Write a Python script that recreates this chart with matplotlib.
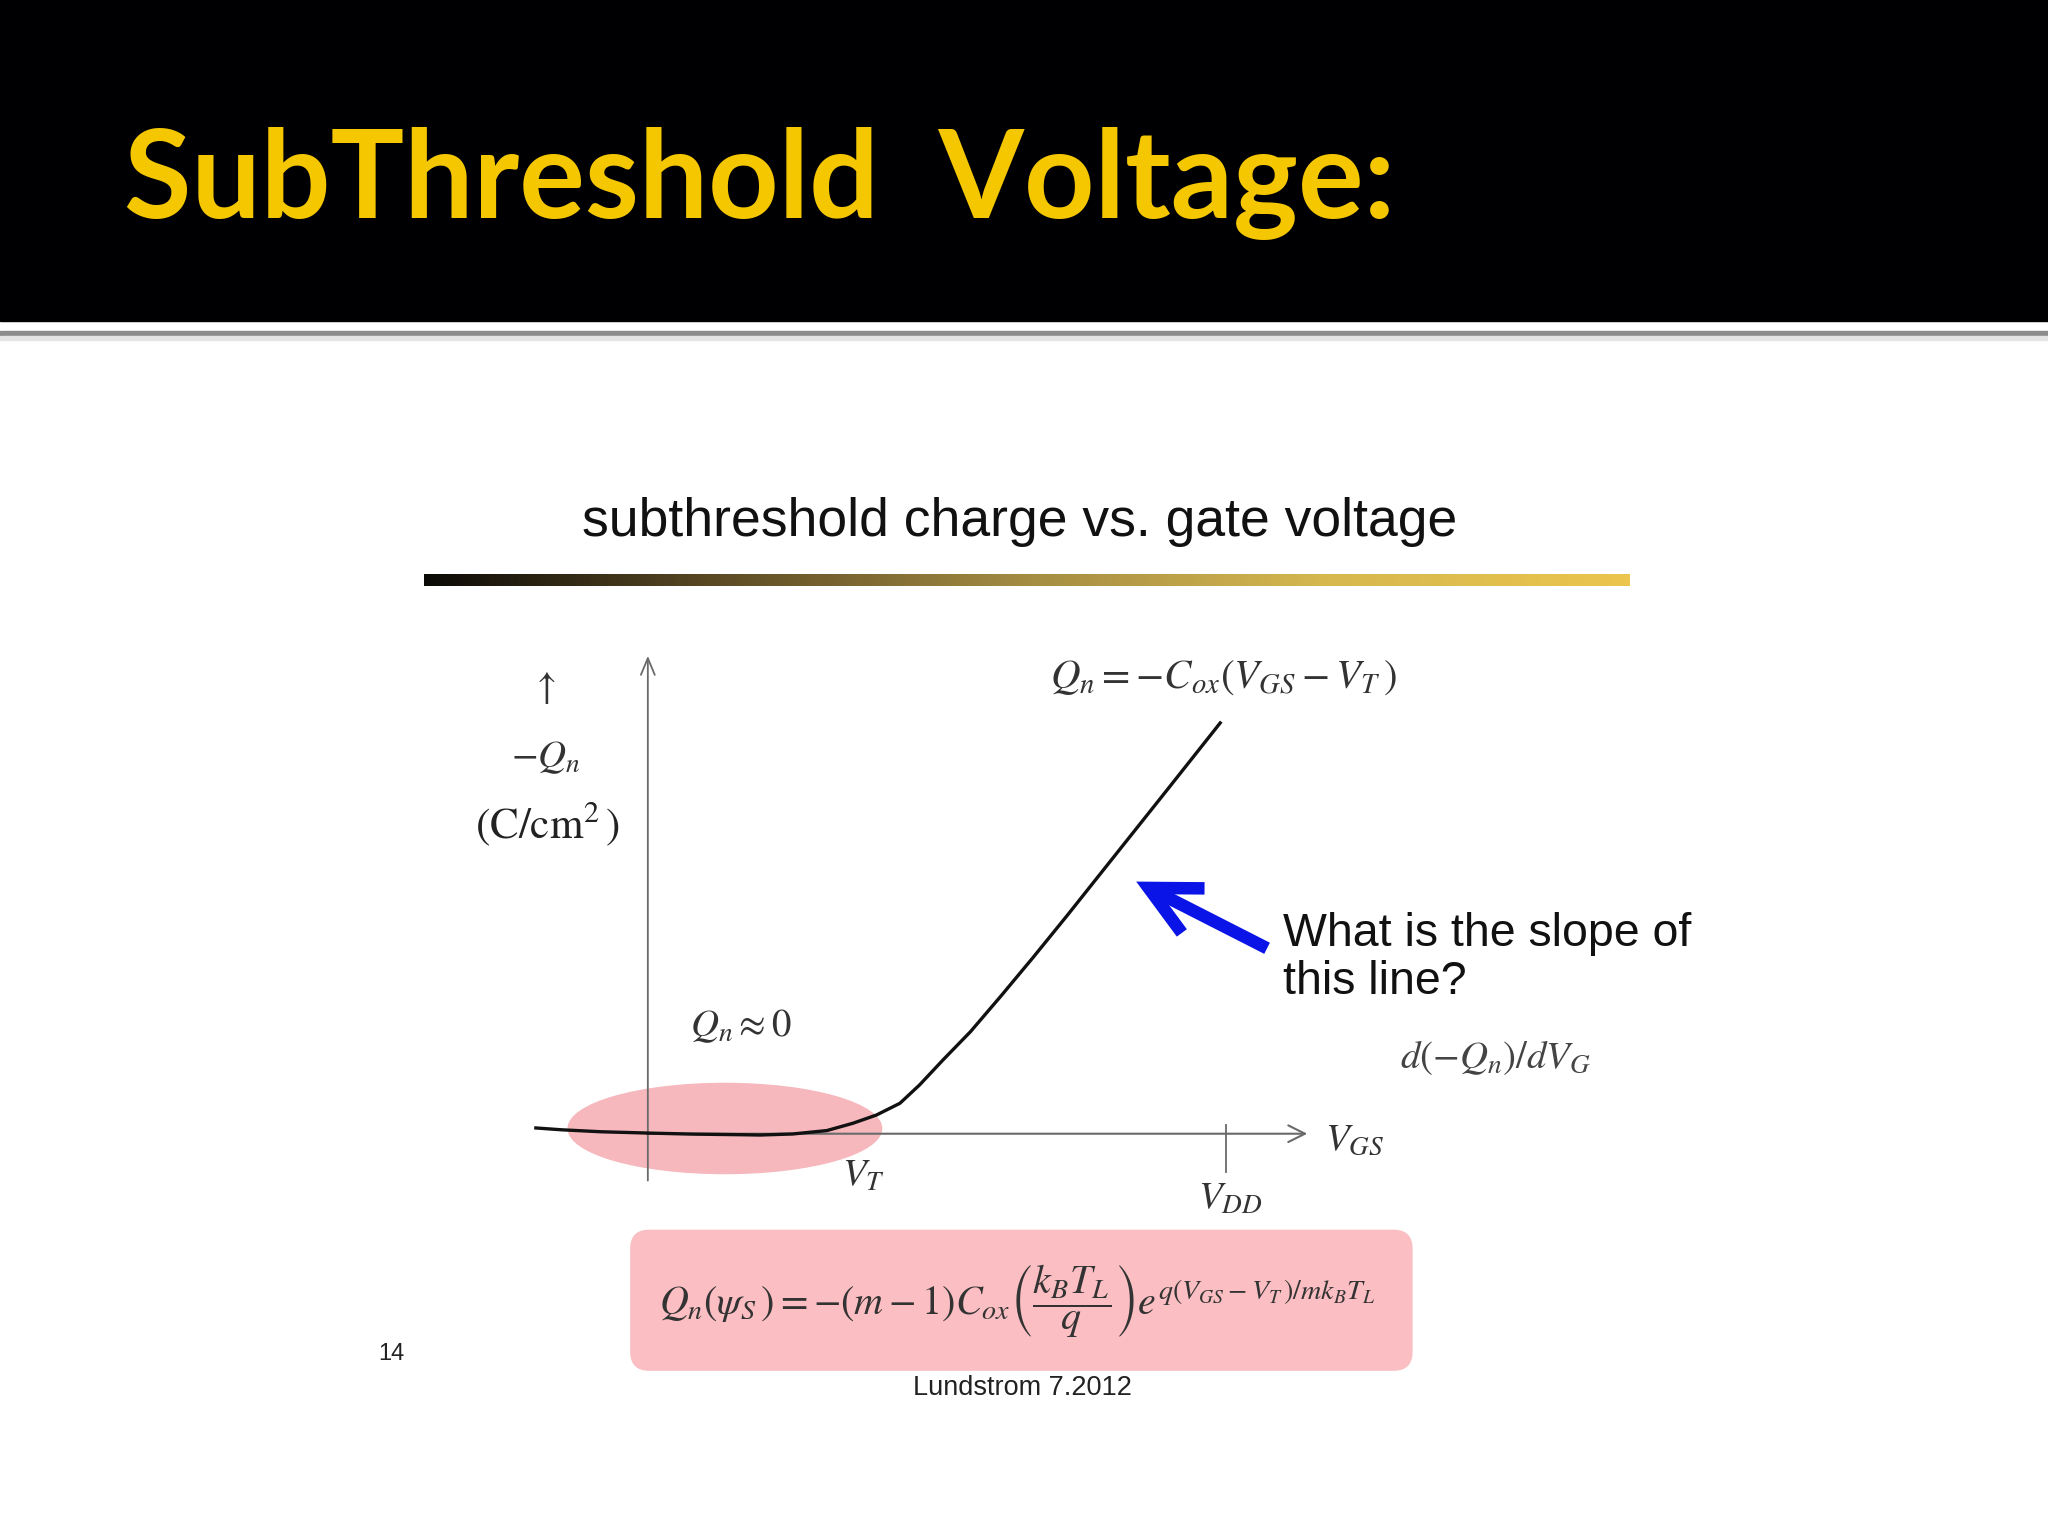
import numpy as np
import matplotlib
matplotlib.use("Agg")
from matplotlib import pyplot as plt
from matplotlib.patches import Rectangle, Ellipse, FancyBboxPatch
from matplotlib.colors import LinearSegmentedColormap

plt.rcParams['mathtext.fontset'] = 'stix'
plt.rcParams['font.family'] = ['Liberation Sans', 'DejaVu Sans']

# slide texts
title = "SubThreshold  Voltage:"
subtitle = "subthreshold charge vs. gate voltage"
question = ["What is the slope of", "this line?"]
source = "Lundstrom 7.2012"
page_no = "14"

# Q_n curve (slide pixel units, y grows downward)
curve_x = [409, 430, 460, 496, 530, 570, 582, 607, 633, 653, 671, 689, 704,
           722, 743, 766, 791, 817, 852, 893, 935]
curve_y = [863.5, 865, 866.5, 867.5, 868.3, 868.8, 869.0, 868.2, 865.6,
           860.0, 853.7, 844.7, 830.7, 811.5, 789.9, 763.0, 733.0, 701.0,
           657.0, 605.5, 552.5]

# axis positions on the slide
origin_x, origin_y = 496, 868
yaxis_top, yaxis_bottom = 500, 906
xaxis_end = 1003
vdd_x = 939

# colours of the bar under the subtitle
bar_colors = ['#0c0a07', '#5e4d25', '#a48c42', '#d6b84f', '#ebc54d']

W, H = 1568, 1176
fig = plt.figure(figsize=(20.48, 15.36), dpi=100)
ax = fig.add_axes([0, 0, 1, 1])
ax.set_xlim(0, W)
ax.set_ylim(H, 0)
ax.axis('off')

# header
ax.add_patch(Rectangle((0, 0), W, 245.5, color='#000003', zorder=1))
ax.add_patch(Rectangle((0, 253.5), W, 4, color='#8c8c8c', zorder=1))
ax.add_patch(Rectangle((0, 257.5), W, 3, color='#e4e4e4', zorder=1))
ax.text(95, 167, title, color='#f5c700', fontsize=88.5, fontweight='bold',
        family='Lato', ha='left', va='baseline', zorder=2)

# subtitle and gradient bar
ax.text(781, 410, subtitle, fontsize=38.5, color='#111111', ha='center',
        va='baseline', zorder=2)
cmap = LinearSegmentedColormap.from_list('bar', bar_colors)
ax.imshow(np.linspace(0, 1, 256).reshape(1, -1), cmap=cmap, aspect='auto',
          extent=[325, 1248, 449, 440], zorder=2)

# highlight ellipse
ax.add_patch(Ellipse((555, 864), 240, 69, color='#f6b8bd', zorder=2))

# axes of the sketch
axis_col = '#6a6a6a'
ax.annotate('', xy=(origin_x, yaxis_top), xytext=(origin_x, yaxis_bottom),
            arrowprops=dict(arrowstyle='->,head_length=0.6,head_width=0.25',
                            color=axis_col, lw=1.3, mutation_scale=20),
            zorder=3)
ax.annotate('', xy=(xaxis_end, origin_y), xytext=(origin_x - 3, origin_y),
            arrowprops=dict(arrowstyle='->,head_length=0.6,head_width=0.3',
                            color=axis_col, lw=1.5, mutation_scale=20),
            zorder=3)
ax.plot([vdd_x, vdd_x], [861, 897], color=axis_col, lw=1.3, zorder=3)

# curve
ax.plot(curve_x, curve_y, color='#111111', lw=2.4, solid_capstyle='butt',
        solid_joinstyle='round', zorder=4)

# labels in math
ms = 28
ax.text(416, 527, r'$\uparrow$', fontsize=ms, ha='center', va='center',
        color='#333333')
ax.text(418, 580, r'$-Q_n$', fontsize=ms, ha='center', va='center',
        color='#333333')
ax.text(419, 631, r'$\left(\mathrm{C/cm^{2}}\,\right)$', fontsize=31,
        ha='center', va='center', color='#222222')
ax.text(567, 786, r'$Q_n\approx 0$', fontsize=ms, ha='center', va='center',
        color='#333333')
ax.text(661, 900, r'$V_T$', fontsize=ms, ha='center', va='center',
        color='#333333')
ax.text(942, 918, r'$V_{DD}$', fontsize=ms, ha='center', va='center',
        color='#333333')
ax.text(1037, 873, r'$V_{GS}$', fontsize=ms, ha='center', va='center',
        color='#333333')
ax.text(937, 519, r'$Q_n=-C_{ox}\left(V_{GS}-V_T\,\right)$', fontsize=29.5,
        ha='center', va='center', color='#333333')
ax.text(1145, 810, r'$d\left(-Q_n\right)/dV_G$', fontsize=ms, ha='center',
        va='center', color='#444444')

# blue arrow and question
ax.annotate('', xy=(868, 674), xytext=(972, 727),
            arrowprops=dict(arrowstyle='->,head_length=1.8,head_width=0.9',
                            color='#0a14e6', lw=9, mutation_scale=20,
                            capstyle='butt', joinstyle='miter'),
            zorder=5)
ax.text(982, 724, question[0], fontsize=33.5, color='#111111', ha='left',
        va='baseline')
ax.text(982, 761, question[1], fontsize=33.5, color='#111111', ha='left',
        va='baseline')

# formula box
ax.add_patch(FancyBboxPatch((483, 942), 598, 107,
                            boxstyle='round,pad=0,rounding_size=14',
                            color='#fbbec2', zorder=2))
ax.text(779, 996,
        r'$Q_n\left(\psi_S\,\right)=-\left(m-1\right)C_{ox}'
        r'\left(\dfrac{k_BT_L}{q}\right)e^{q\left(V_{GS}-V_T\,\right)/mk_BT_L}$',
        fontsize=28.8, ha='center', va='center', color='#333333', zorder=3)

ax.text(783, 1063, source, fontsize=19.5, color='#222222', ha='center',
        va='center')
ax.text(300, 1037, page_no, fontsize=17, color='#222222', ha='center',
        va='center')

fig.savefig('out.png', dpi=100, facecolor='white')
